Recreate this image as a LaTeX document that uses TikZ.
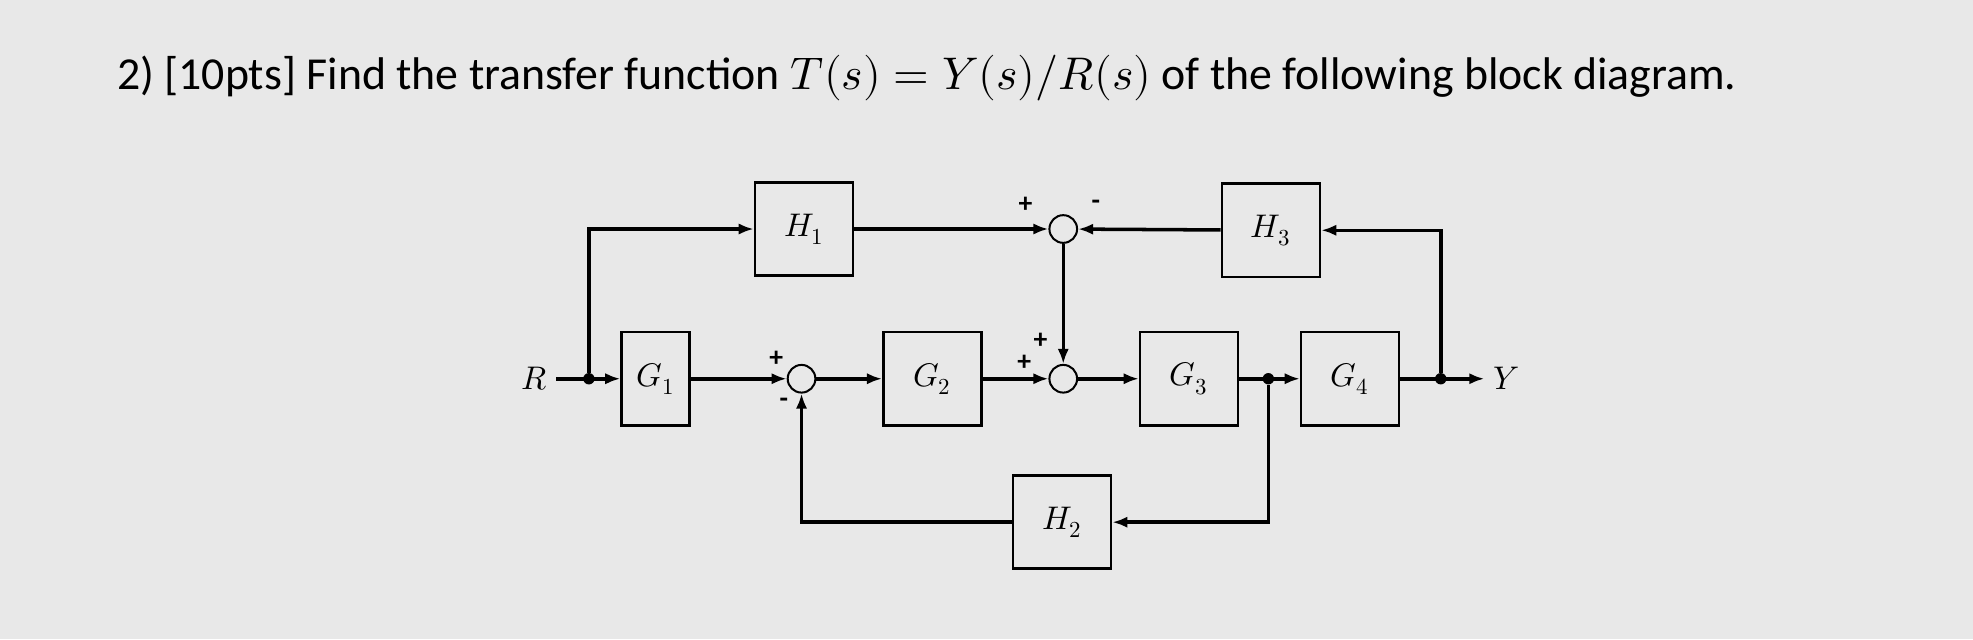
\documentclass[tikz,border=0pt]{standalone}
\usepackage{fontspec}
\setmainfont{Carlito}
\usepackage{unicode-math}
\setmathfont{Latin Modern Math}
\usetikzlibrary{arrows.meta}
\begin{document}
\begin{tikzpicture}[x=0.5pt,y=-0.5pt,
  blk/.style={draw,line width=1pt,minimum width=39pt,minimum height=37pt,inner sep=0pt,font=\fontsize{13}{13}\selectfont},
  sum/.style={draw,circle,line width=0.8pt,minimum size=11pt,inner sep=0pt},
  sig/.style={line width=1.4pt},
  arr/.style={sig,-{Latex[length=6pt,width=4.5pt]}},
  dot/.style={circle,fill,inner sep=1.6pt},
  pm/.style={font=\bfseries\fontsize{11}{11}\selectfont,inner sep=0pt}]
\fill[gray!18] (0,0) rectangle (1568,508);
\useasboundingbox (0,0) rectangle (1568,508);
\node[anchor=west,font=\fontsize{18.2}{18.2}\selectfont] (title) at (86,62) {2) [10pts] Find the transfer function $T(s)=Y(s)/R(s)$ of the following block diagram.};
\node[blk] (H1) at (639,182) {$H_1$};
\node[blk] (H3) at (1010,183) {$H_3$};
\node[blk,minimum width=27pt] (G1) at (521,301) {$G_1$};
\node[blk] (G2) at (741,301) {$G_2$};
\node[blk] (G3) at (945,301) {$G_3$};
\node[blk] (G4) at (1073,301) {$G_4$};
\node[blk] (H2) at (844,415) {$H_2$};
\node[sum] (S0) at (845,182) {};
\node[sum] (S1) at (637,301) {};
\node[sum] (S2) at (845,301) {};
\node[font=\fontsize{13}{13}\selectfont] (R) at (425,301) {$R$};
\node[font=\fontsize{13}{13}\selectfont] (Y) at (1197,301) {$Y$};
\node[dot] (dR) at (468,301) {};
\node[dot] (dY) at (1145,301) {};
\node[dot] (d3) at (1008,301) {};
\coordinate (c1) at (468,182);
\coordinate (c2) at (1145,183);
\coordinate (c3) at (1008,415);
\coordinate (c4) at (637,415);
\draw[arr] (R) -- (G1);
\draw[arr] (dR) -- (c1) -- (H1);
\draw[arr] (H1) -- (S0);
\draw[arr] (H3) -- (S0);
\draw[arr] (dY) -- (c2) -- (H3);
\draw[arr] (S0) -- (S2);
\draw[arr] (G1) -- (S1);
\draw[arr] (S1) -- (G2);
\draw[arr] (G2) -- (S2);
\draw[arr] (S2) -- (G3);
\draw[arr] (G3) -- (G4);
\draw[arr] (G4) -- (Y);
\draw[arr] (d3) -- (c3) -- (H2);
\draw[arr] (H2) -- (c4) -- (S1);
\node[pm] (p1) at (815,163) {+};
\node[pm] (m1) at (871,163) {-};
\node[pm] (p2) at (617,285) {+};
\node[pm] (m2) at (623,320) {-};
\node[pm] (p3) at (814,288) {+};
\node[pm] (p4) at (827,271) {+};
\end{tikzpicture}
\end{document}
